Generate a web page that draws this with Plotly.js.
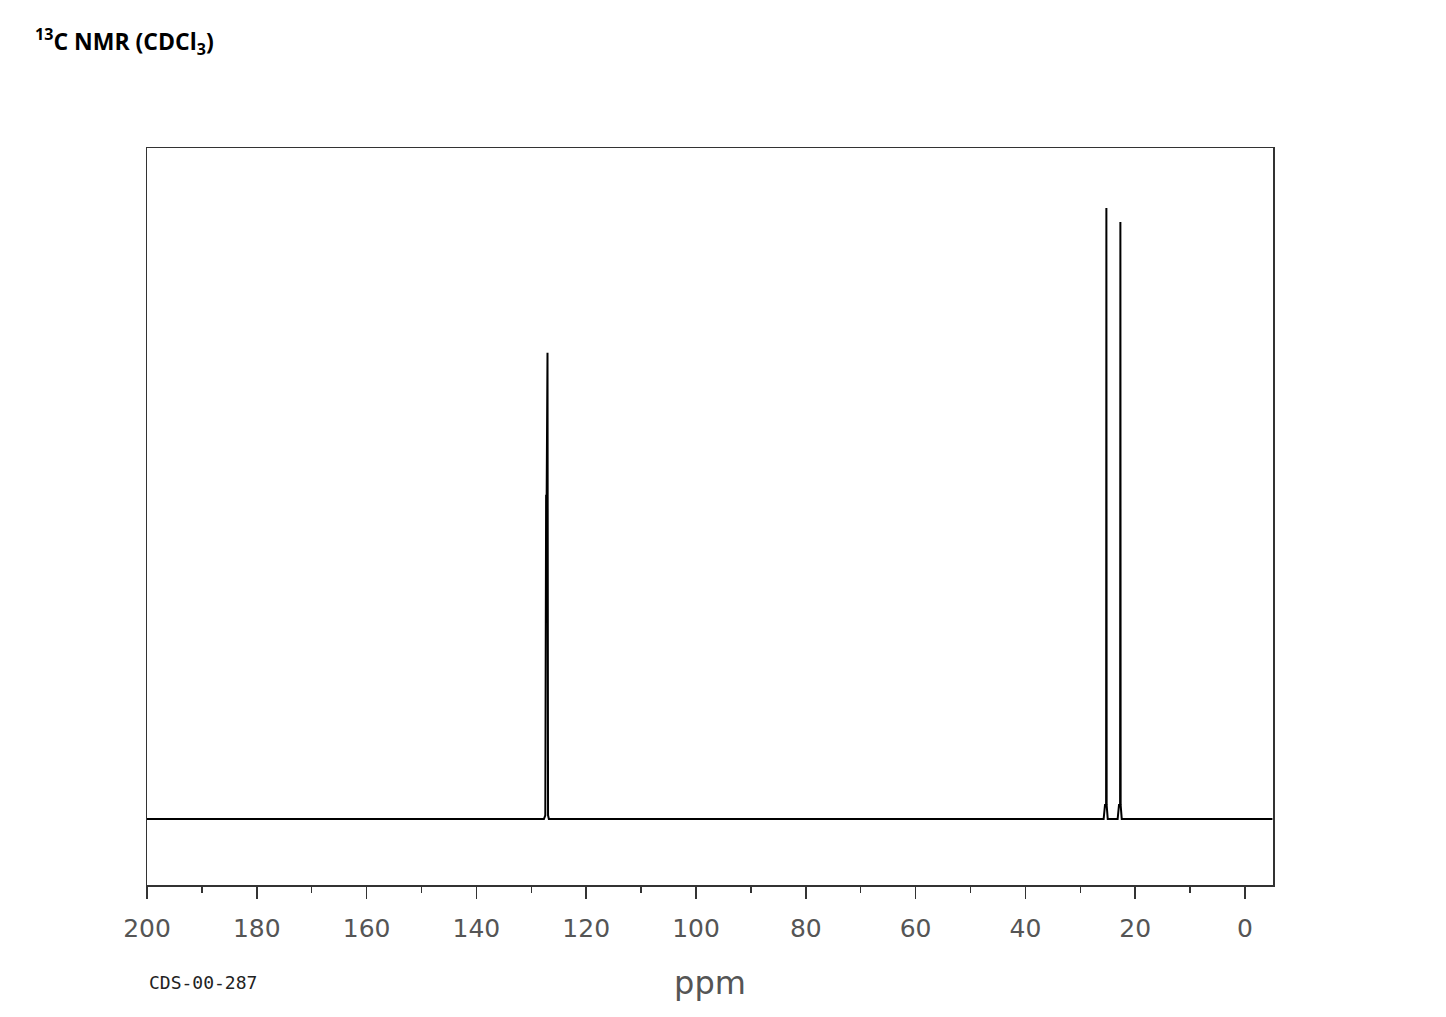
<!DOCTYPE html>
<html>
<head>
<meta charset="utf-8">
<script src="https://cdn.plot.ly/plotly-3.0.1.min.js"></script>
<style>html,body{margin:0;padding:0;background:#fff;}#chart{width:1446px;height:1017px;}</style>
</head>
<body>
<div id="chart"></div>
<script>
// Spectrum trace (ppm, relative intensity)
const ppm = [200, 127.7, 127.45, 127.35, 127.3, 127.2, 127.05, 126.95, 126.8,
             25.75, 25.5, 25.3, 25.25, 25.2, 25.0,
             23.2, 22.95, 22.75, 22.7, 22.65, 22.45, -5];
const intensity = [0, 0, 0.6, 52.9, 52.9, 52.9, 76.3, 0.6, 0,
                   0, 2.3, 2.3, 100, 2.3, 0,
                   0, 2.3, 2.3, 97.7, 2.3, 0, 0];
const xTickVals = [200, 180, 160, 140, 120, 100, 80, 60, 40, 20, 0];
const xTickText = ['200', '180', '160', '140', '120', '100', '80', '60', '40', '20', '0'];
const titleText = '<sup>13</sup>C NMR (CDCl<sub>3</sub>)';
const codeText = 'CDS-00-287';

const trace = {
  x: ppm, y: intensity, type: 'scatter', mode: 'lines',
  line: {color: '#000', width: 2}, hoverinfo: 'x+y'
};

const layout = {
  width: 1446, height: 1017,
  paper_bgcolor: '#fff', plot_bgcolor: '#fff',
  margin: {l: 147, r: 173, t: 148, b: 132},
  showlegend: false,
  title: {
    text: titleText, x: 35/1446, xref: 'container', xanchor: 'left',
    y: 1 - 42/1017, yref: 'container', yanchor: 'middle',
    font: {family: 'Open Sans, Liberation Sans, sans-serif', size: 23, color: '#000', weight: 'bold'}
  },
  xaxis: {
    range: [200, -5.1], autorange: false,
    tickvals: xTickVals, ticktext: xTickText,
    ticks: 'outside', ticklen: 12, tickwidth: 1.5, tickcolor: '#333',
    ticklabelstandoff: 8,
    minor: {dtick: 10, tick0: 0, ticks: 'outside', ticklen: 6, tickwidth: 1.5, tickcolor: '#333', showgrid: false},
    showgrid: false, zeroline: false,
    showline: true, linecolor: '#333', linewidth: 1.5, mirror: true,
    tickfont: {family: 'DejaVu Sans, sans-serif', size: 25, color: '#555'},
    title: {text: 'ppm', font: {family: 'DejaVu Sans, sans-serif', size: 32, color: '#555'}, standoff: 30}
  },
  yaxis: {
    range: [-10.8, 109.8], autorange: false,
    showticklabels: false, ticks: '', showgrid: false, zeroline: false,
    showline: true, linecolor: '#333', linewidth: 1.5, mirror: true
  },
  annotations: [{
    text: codeText, xref: 'paper', yref: 'paper', x: 0, y: -0.132,
    xanchor: 'left', yanchor: 'middle', showarrow: false,
    font: {family: 'DejaVu Sans Mono, monospace', size: 18, color: '#222'}
  }]
};

Plotly.newPlot('chart', [trace], layout, {displayModeBar: false, staticPlot: true});
</script>
</body>
</html>
